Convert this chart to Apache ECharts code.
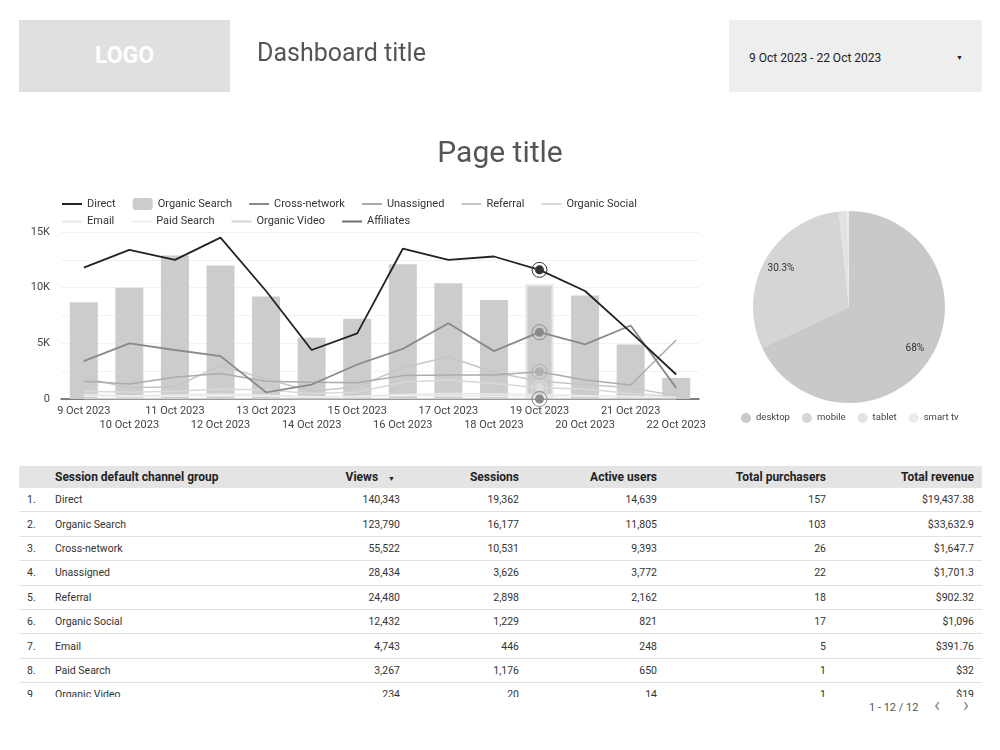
<!DOCTYPE html>
<html>
<head>
<meta charset="utf-8">
<script src="https://cdn.jsdelivr.net/npm/echarts@6/dist/echarts.min.js"></script>
<style>
    body { margin: 0; width: 1000px; height: 750px; background: #fff; font-family: Roboto, 'Noto Sans', sans-serif; position: relative; overflow: hidden; color: #333; }
    .logo { position: absolute; left: 19px; top: 20px; width: 211px; height: 72px; background: #e0e0e0; color: #fff; font-weight: 700; font-size: 23px; line-height: 72px; text-align: center; }
    .dash-title { position: absolute; left: 257px; top: 38px; font-size: 25px; color: #555; line-height: 30px; }
    .date-box { position: absolute; left: 729px; top: 20px; width: 253px; height: 72px; background: #eeeeee; }
    .date-box .txt { position: absolute; left: 20px; top: 30px; font-size: 12px; color: #222; line-height: 16px; }
    .date-box .arr { position: absolute; left: 227px; top: 30px; font-size: 7px; color: #222; line-height: 16px; }
    .page-title { position: absolute; left: 0; width: 1000px; top: 134px; text-align: center; font-size: 30px; color: #555; line-height: 36px; }
    #chart { position: absolute; left: 0; top: 0; width: 1000px; height: 450px; }
    .table-wrap { position: absolute; left: 19px; top: 466px; width: 963px; height: 231px; overflow: hidden; }
    table { border-collapse: collapse; width: 963px; table-layout: fixed; font-size: 10.5px; }
    th { background: #e4e4e4; height: 22px; font-weight: 700; font-size: 12px; color: #222; padding: 0; }
    td { height: 23.4px; border-bottom: 1px solid #e2e2e2; color: #333; padding: 0; }
    .l { text-align: left; }
    .r { text-align: right; }
    .pager { position: absolute; top: 700px; left: 869px; font-size: 11px; color: #555; line-height: 16px; }
    .pager span { position: absolute; top: -3px; font-size: 20px; color: #888; }
</style>
</head>
<body>
<div id="chart"></div>
<div class="logo">LOGO</div>
<div class="dash-title">Dashboard title</div>
<div class="date-box"><div class="txt">9 Oct 2023 - 22 Oct 2023</div><div class="arr">▼</div></div>
<div class="page-title">Page title</div>
<div class="table-wrap"><table id="tbl"></table></div>
<div class="pager">1 - 12 / 12<span style="left:65px">&lsaquo;</span><span style="left:94px">&rsaquo;</span></div>

<script>
    // x axis categories
    const dates = ['9 Oct 2023', '10 Oct 2023', '11 Oct 2023', '12 Oct 2023', '13 Oct 2023', '14 Oct 2023', '15 Oct 2023',
        '16 Oct 2023', '17 Oct 2023', '18 Oct 2023', '19 Oct 2023', '20 Oct 2023', '21 Oct 2023', '22 Oct 2023'];

    // daily views per channel
    const direct = [11800, 13400, 12500, 14500, 9700, 4400, 5900, 13500, 12500, 12800, 11600, 9700, 6000, 2200];
    const organicSearch = [8700, 10000, 12900, 12000, 9200, 5500, 7200, 12100, 10400, 8900, 10300, 9300, 4900, 1900];
    const crossNetwork = [3400, 5000, 4400, 3850, 600, 1300, 3100, 4500, 6800, 4300, 6000, 4900, 6600, 1000];
    const unassigned = [1600, 1350, 1950, 2300, 1600, 1500, 1450, 2100, 2150, 2150, 2450, 1700, 1250, 5300];
    const referral = [1900, 1000, 1100, 3000, 1800, 700, 1100, 2800, 3800, 2400, 1600, 1300, 1000, 300];
    const organicSocial = [700, 600, 700, 900, 800, 500, 600, 1500, 1700, 1400, 1000, 900, 500, 200];
    const email = [400, 300, 350, 450, 350, 200, 250, 400, 500, 450, 400, 300, 250, 100];
    const paidSearch = [250, 200, 250, 300, 250, 150, 200, 300, 300, 250, 250, 250, 200, 100];
    const organicVideo = [20, 15, 20, 25, 15, 10, 15, 20, 20, 20, 15, 15, 15, 5];
    const affiliates = [0, 0, 0, 0, 0, 0, 0, 0, 0, 0, 0, 0, 0, 0];

    // device split (%)
    const devices = ['desktop', 'mobile', 'tablet', 'smart tv'];
    const deviceShare = [68, 30.3, 1.4, 0.3];

    // table
    const channels = ['Direct', 'Organic Search', 'Cross-network', 'Unassigned', 'Referral', 'Organic Social', 'Email', 'Paid Search', 'Organic Video'];
    const views = [140343, 123790, 55522, 28434, 24480, 12432, 4743, 3267, 234];
    const sessions = [19362, 16177, 10531, 3626, 2898, 1229, 446, 1176, 20];
    const activeUsers = [14639, 11805, 9393, 3772, 2162, 821, 248, 650, 14];
    const purchasers = [157, 103, 26, 22, 18, 17, 5, 1, 1];
    const revenue = [19437.38, 33632.9, 1647.7, 1701.3, 902.32, 1096, 391.76, 32, 19];

    const hoverIndex = 10;
    const lineIcon = 'path://M0,0H20V2H0Z';

    function hoverMark(values, color) {
        const c = [dates[hoverIndex], values[hoverIndex]];
        return {
            silent: true,
            animation: false,
            label: { show: false },
            data: [
                { coord: c, symbol: 'circle', symbolSize: 15, itemStyle: { color: 'rgba(0,0,0,0)', borderColor: color, borderWidth: 1 } },
                { coord: c, symbol: 'circle', symbolSize: 9, itemStyle: { color: color } }
            ]
        };
    }

    function lineSeries(name, values, color, width, mark) {
        const s = {
            name: name,
            type: 'line',
            data: values,
            symbol: 'none',
            color: color,
            lineStyle: { color: color, width: width },
            z: 3
        };
        if (mark) {
            s.markPoint = hoverMark(values, mark);
        }
        return s;
    }

    const legendItem = name => (name === 'Organic Search' ? { name: name } : { name: name, icon: lineIcon });

    const fmt = v => v.toLocaleString('en-US');
    const money = v => '$' + v.toLocaleString('en-US', { maximumFractionDigits: 2 });

    const chart = echarts.init(document.getElementById('chart'));

    const option = {
        animation: false,
        textStyle: { fontFamily: 'Roboto' },
        legend: [
            {
                left: 57, top: 193, itemWidth: 20, itemHeight: 12, itemGap: 17,
                textStyle: { fontSize: 11, color: '#333' },
                data: ['Direct', 'Organic Search', 'Cross-network', 'Unassigned', 'Referral', 'Organic Social'].map(legendItem)
            },
            {
                left: 57, top: 211, itemWidth: 20, itemHeight: 12, itemGap: 17,
                textStyle: { fontSize: 11, color: '#333' },
                data: ['Email', 'Paid Search', 'Organic Video', 'Affiliates'].map(legendItem)
            },
            {
                left: 736, top: 408, itemWidth: 10, itemHeight: 10, itemGap: 12, icon: 'circle',
                textStyle: { fontSize: 9.5, color: '#444' },
                data: devices
            }
        ],
        grid: { left: 61, top: 232, width: 638, height: 167 },
        xAxis: {
            type: 'category',
            data: dates,
            axisTick: { show: false },
            axisLine: { lineStyle: { color: '#555', width: 1.5 } },
            axisLabel: {
                interval: 0,
                margin: 5,
                fontSize: 11,
                color: '#444',
                lineHeight: 14,
                formatter: (v, i) => (i % 2 === 1 ? '\n' + v : v)
            }
        },
        yAxis: {
            type: 'value',
            min: 0,
            max: 15000,
            interval: 2500,
            axisLine: { show: false },
            axisTick: { show: false },
            splitLine: { lineStyle: { color: '#f2f2f2' } },
            axisLabel: {
                margin: 11,
                fontSize: 11,
                color: '#444',
                formatter: v => (v === 0 ? '0' : (v % 5000 === 0 ? v / 1000 + 'K' : ''))
            }
        },
        series: [
            {
                name: 'Organic Search',
                type: 'bar',
                barWidth: 28,
                color: '#cccccc',
                z: 2,
                data: organicSearch.map((v, i) => i === hoverIndex
                    ? { value: v, itemStyle: { borderColor: '#e6e6e6', borderWidth: 2 } }
                    : v)
            },
            lineSeries('Referral', referral, '#c6c6c6', 1.5, '#d0d0d0'),
            lineSeries('Organic Social', organicSocial, '#d8d8d8', 1.5, '#dddddd'),
            lineSeries('Email', email, '#e8e8e8', 1.5),
            lineSeries('Paid Search', paidSearch, '#eeeeee', 1.5),
            lineSeries('Affiliates', affiliates, '#707070', 1.5, '#8a8a8a'),
            lineSeries('Organic Video', organicVideo, '#d2d2d2', 1.5),
            lineSeries('Unassigned', unassigned, '#ababab', 1.5, '#b0b0b0'),
            lineSeries('Cross-network', crossNetwork, '#8a8a8a', 1.8, '#8a8a8a'),
            lineSeries('Direct', direct, '#222222', 1.8, '#333333'),
            {
                name: 'Device',
                type: 'pie',
                center: [849, 307],
                radius: 96,
                startAngle: 90,
                clockwise: true,
                color: ['#c9c9c9', '#d5d5d5', '#e2e2e2', '#ececec'],
                label: { show: false },
                labelLine: { show: false },
                data: devices.map((d, i) => ({ name: d, value: deviceShare[i] }))
            },
            {
                name: 'Device labels',
                type: 'pie',
                center: [849, 307],
                radius: [54, 96],
                startAngle: 90,
                clockwise: true,
                silent: true,
                itemStyle: { color: 'rgba(0,0,0,0)' },
                minShowLabelAngle: 10,
                label: { show: true, position: 'inside', formatter: '{d}%', fontSize: 10, color: '#333' },
                labelLine: { show: false },
                data: devices.map((d, i) => ({ name: d, value: deviceShare[i] }))
            }
        ]
    };

    chart.setOption(option);

    // table
    const cols = [
        { w: 36, cls: 'l', pad: '0 0 0 8px' },
        { w: 245, cls: 'l', pad: '0' },
        { w: 105, cls: 'r', pad: '0 5px 0 0' },
        { w: 119, cls: 'r', pad: '0 5px 0 0' },
        { w: 138, cls: 'r', pad: '0 5px 0 0' },
        { w: 169, cls: 'r', pad: '0 5px 0 0' },
        { w: 151, cls: 'r', pad: '0 8px 0 0' }
    ];
    const head = ['', 'Session default channel group', 'Views <span style="font-size:7px;padding-left:7px">▼</span>',
        'Sessions', 'Active users', 'Total purchasers', 'Total revenue'];

    let html = '<colgroup>' + cols.map(c => '<col style="width:' + c.w + 'px">').join('') + '</colgroup>';
    html += '<tr>' + head.map((h, i) => '<th class="' + cols[i].cls + '" style="padding:' +
        (i === 2 ? '0 10px 0 0' : cols[i].pad) + '">' + h + '</th>').join('') + '</tr>';
    channels.forEach((ch, r) => {
        const cells = [(r + 1) + '.', ch, fmt(views[r]), fmt(sessions[r]), fmt(activeUsers[r]), fmt(purchasers[r]), money(revenue[r])];
        html += '<tr>' + cells.map((c, i) => '<td class="' + cols[i].cls + '" style="padding:' + cols[i].pad + '">' + c + '</td>').join('') + '</tr>';
    });
    document.getElementById('tbl').innerHTML = html;
</script>
</body>
</html>
